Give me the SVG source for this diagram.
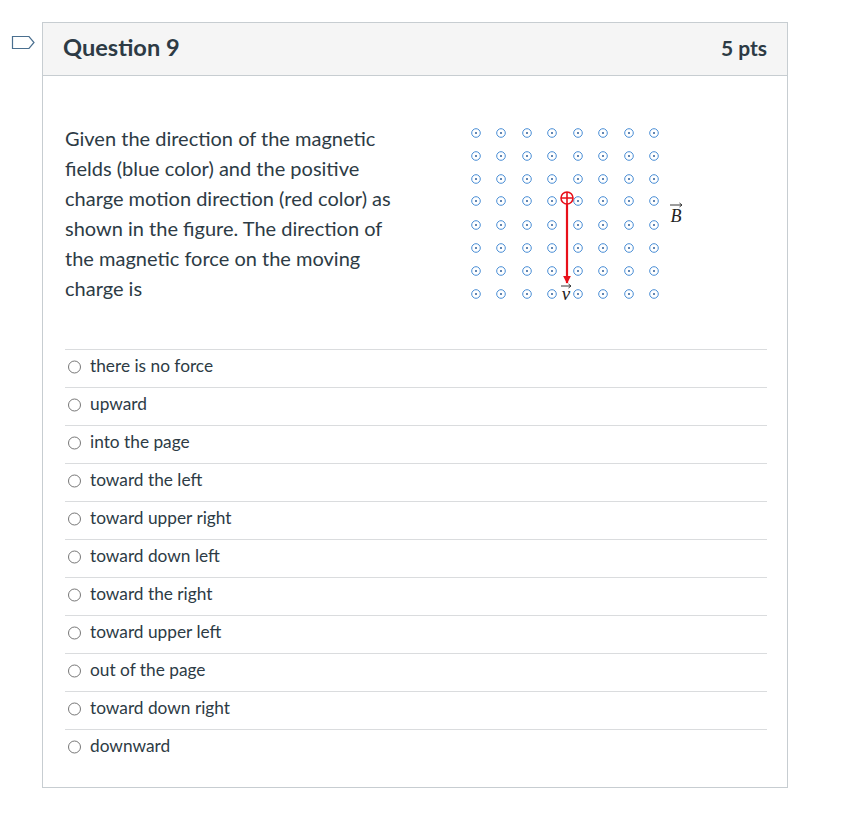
<svg xmlns="http://www.w3.org/2000/svg" width="867" height="818" viewBox="0 0 867 818">
<defs>
<style>
.t{font-family:Lato,"Open Sans",sans-serif;fill:#2d3b45}
.q{font-size:20px}
.o{font-size:17.3px}
.sep{stroke:#dadcde;stroke-width:1}
.rad{fill:#fff;stroke:#777;stroke-width:1}
</style>
<g id="dot"><circle r="4.3" fill="none" stroke="#4a8ed6" stroke-width="1"/><circle r="1" fill="#2f5f9a"/></g>
<marker id="ah" viewBox="0 0 10 10" refX="9" refY="5" markerWidth="3.5" markerHeight="3.5" orient="auto"><path d="M0,0 L10,5 L0,10 z" fill="#e8101a"/></marker>
</defs>
<rect width="867" height="818" fill="#fff"/>
<g id="bookmark"><path d="M12.5,36.5 H29 L34,42.5 L29,48.5 H12.5 Z" fill="none" stroke="#4a6f8f" stroke-width="1.2"/></g>
<g id="panel">
<rect x="42.5" y="22.5" width="745" height="765" fill="#fff" stroke="#c7cdd1"/>
<rect x="43" y="23" width="744" height="52" fill="#f5f5f5"/>
<line x1="42.5" y1="75.5" x2="787.5" y2="75.5" stroke="#c7cdd1"/>
<text class="t" x="63" y="56" font-size="23.6" font-weight="bold">Question 9</text>
<text class="t" x="767" y="56" font-size="21" font-weight="bold" text-anchor="end">5 pts</text>
</g>
<g id="question">
<text class="t q" x="65" y="146">Given the direction of the magnetic</text>
<text class="t q" x="65" y="176">fields (blue color) and the positive</text>
<text class="t q" x="65" y="206">charge motion direction (red color) as</text>
<text class="t q" x="65" y="236">shown in the figure. The direction of</text>
<text class="t q" x="65" y="266">the magnetic force on the moving</text>
<text class="t q" x="65" y="296">charge is</text>
</g>
<g id="field">
<g transform="translate(0,133)"><use href="#dot" x="476"/><use href="#dot" x="501"/><use href="#dot" x="527"/><use href="#dot" x="552"/><use href="#dot" x="578"/><use href="#dot" x="603"/><use href="#dot" x="629"/><use href="#dot" x="654"/></g>
<g transform="translate(0,156)"><use href="#dot" x="476"/><use href="#dot" x="501"/><use href="#dot" x="527"/><use href="#dot" x="552"/><use href="#dot" x="578"/><use href="#dot" x="603"/><use href="#dot" x="629"/><use href="#dot" x="654"/></g>
<g transform="translate(0,179)"><use href="#dot" x="476"/><use href="#dot" x="501"/><use href="#dot" x="527"/><use href="#dot" x="552"/><use href="#dot" x="578"/><use href="#dot" x="603"/><use href="#dot" x="629"/><use href="#dot" x="654"/></g>
<g transform="translate(0,201)"><use href="#dot" x="476"/><use href="#dot" x="501"/><use href="#dot" x="527"/><use href="#dot" x="552"/><use href="#dot" x="578"/><use href="#dot" x="603"/><use href="#dot" x="629"/><use href="#dot" x="654"/></g>
<g transform="translate(0,225)"><use href="#dot" x="476"/><use href="#dot" x="501"/><use href="#dot" x="527"/><use href="#dot" x="552"/><use href="#dot" x="578"/><use href="#dot" x="603"/><use href="#dot" x="629"/><use href="#dot" x="654"/></g>
<g transform="translate(0,248)"><use href="#dot" x="476"/><use href="#dot" x="501"/><use href="#dot" x="527"/><use href="#dot" x="552"/><use href="#dot" x="578"/><use href="#dot" x="603"/><use href="#dot" x="629"/><use href="#dot" x="654"/></g>
<g transform="translate(0,271)"><use href="#dot" x="476"/><use href="#dot" x="501"/><use href="#dot" x="527"/><use href="#dot" x="552"/><use href="#dot" x="578"/><use href="#dot" x="603"/><use href="#dot" x="629"/><use href="#dot" x="654"/></g>
<g transform="translate(0,294)"><use href="#dot" x="476"/><use href="#dot" x="501"/><use href="#dot" x="527"/><use href="#dot" x="552"/><use href="#dot" x="578"/><use href="#dot" x="603"/><use href="#dot" x="629"/><use href="#dot" x="654"/></g>
</g>
<g id="charge">
<circle cx="567" cy="198" r="6" fill="#fff" stroke="#e8101a" stroke-width="1.6"/>
<path d="M561,198 H573 M567,192 V204" stroke="#e8101a" stroke-width="1.6"/>
<line x1="567" y1="204" x2="567" y2="283" stroke="#e8101a" stroke-width="2.2" marker-end="url(#ah)"/>
<text x="566" y="300" font-family="Liberation Serif,serif" font-style="italic" font-size="19" text-anchor="middle" fill="#222">v</text>
<path d="M561,286 H570.5 M568.5,284 L571,286 L568.5,288" stroke="#222" stroke-width="0.9" fill="none"/>
<text x="676" y="222" font-family="Liberation Serif,serif" font-style="italic" font-size="18" text-anchor="middle" fill="#222">B</text>
<path d="M670,205 H681.5 M679.5,203 L682,205 L679.5,207" stroke="#222" stroke-width="0.9" fill="none"/>
</g>
<g id="options">
<line class="sep" x1="65" y1="349.5" x2="767" y2="349.5"/>
<line class="sep" x1="65" y1="387.5" x2="767" y2="387.5"/>
<line class="sep" x1="65" y1="425.5" x2="767" y2="425.5"/>
<line class="sep" x1="65" y1="463.5" x2="767" y2="463.5"/>
<line class="sep" x1="65" y1="501.5" x2="767" y2="501.5"/>
<line class="sep" x1="65" y1="539.5" x2="767" y2="539.5"/>
<line class="sep" x1="65" y1="577.5" x2="767" y2="577.5"/>
<line class="sep" x1="65" y1="615.5" x2="767" y2="615.5"/>
<line class="sep" x1="65" y1="653.5" x2="767" y2="653.5"/>
<line class="sep" x1="65" y1="691.5" x2="767" y2="691.5"/>
<line class="sep" x1="65" y1="729.5" x2="767" y2="729.5"/>
<circle class="rad" cx="74.5" cy="367" r="6"/><text class="t o" x="90" y="372">there is no force</text>
<circle class="rad" cx="74.5" cy="405" r="6"/><text class="t o" x="90" y="410">upward</text>
<circle class="rad" cx="74.5" cy="443" r="6"/><text class="t o" x="90" y="448">into the page</text>
<circle class="rad" cx="74.5" cy="481" r="6"/><text class="t o" x="90" y="486">toward the left</text>
<circle class="rad" cx="74.5" cy="519" r="6"/><text class="t o" x="90" y="524">toward upper right</text>
<circle class="rad" cx="74.5" cy="557" r="6"/><text class="t o" x="90" y="562">toward down left</text>
<circle class="rad" cx="74.5" cy="595" r="6"/><text class="t o" x="90" y="600">toward the right</text>
<circle class="rad" cx="74.5" cy="633" r="6"/><text class="t o" x="90" y="638">toward upper left</text>
<circle class="rad" cx="74.5" cy="671" r="6"/><text class="t o" x="90" y="676">out of the page</text>
<circle class="rad" cx="74.5" cy="709" r="6"/><text class="t o" x="90" y="714">toward down right</text>
<circle class="rad" cx="74.5" cy="747" r="6"/><text class="t o" x="90" y="752">downward</text>
</g>
</svg>
